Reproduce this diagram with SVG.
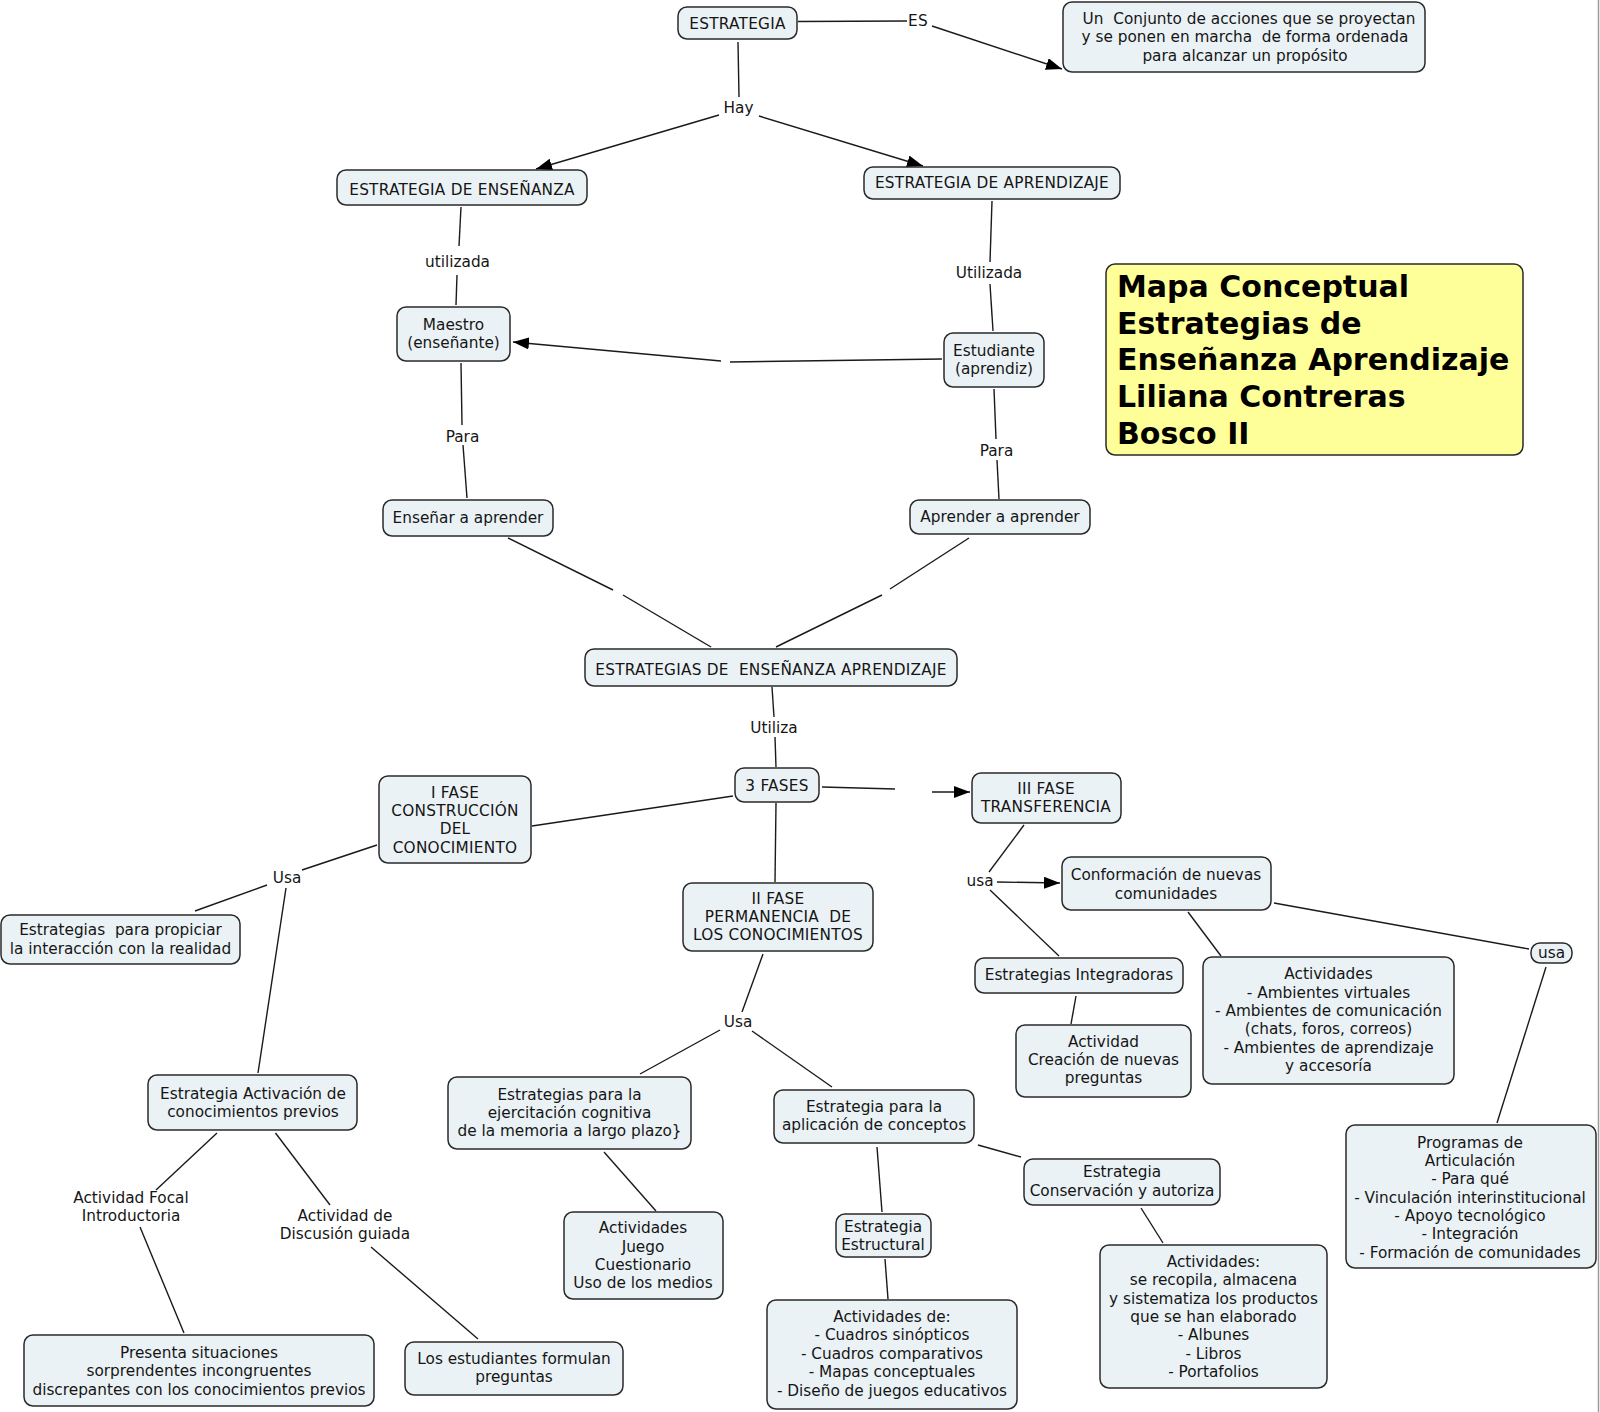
<svg xmlns="http://www.w3.org/2000/svg" width="1600" height="1412" viewBox="0 0 1600 1412">
<style>
.n{fill:#EAF2F5;stroke:#2a2a2a;stroke-width:1.5}
.ttl{fill:#FFFF99;stroke:#2a2a2a;stroke-width:1.5}
text{font-family:"DejaVu Sans","Verdana",sans-serif;font-size:15.3px;fill:#151515}
.c{text-anchor:middle}
.cap{letter-spacing:0.25px}
.big{font-size:30px;font-weight:bold;fill:#000}
#connectors line{stroke:#1a1a1a;stroke-width:1.4;fill:none}
.ar{marker-end:url(#arrow)}
</style>
<defs>
<marker id="arrow" viewBox="0 0 16 12" refX="16" refY="6" markerWidth="16" markerHeight="12" markerUnits="userSpaceOnUse" orient="auto">
<path d="M0,0 L16,6 L0,12 z" fill="#000"/>
</marker>
</defs>
<rect x="0" y="0" width="1600" height="1412" fill="#fff"/>
<line x1="1598.5" y1="0" x2="1598.5" y2="1412" stroke="#9a9a9a" stroke-width="1.5"/>

<g id="connectors">
<line x1="798" y1="21.5" x2="907" y2="21"/>
<line class="ar" x1="932" y1="26" x2="1062" y2="69"/>
<line x1="738" y1="42" x2="739" y2="97"/>
<line class="ar" x1="719" y1="115" x2="536" y2="169"/>
<line class="ar" x1="759" y1="116" x2="923" y2="166"/>
<line x1="461" y1="207" x2="459" y2="246"/>
<line x1="457" y1="275" x2="456" y2="305"/>
<line x1="992" y1="201" x2="990" y2="262"/>
<line x1="990" y1="284" x2="993" y2="331"/>
<line x1="942" y1="359" x2="730" y2="362"/>
<line class="ar" x1="721" y1="361" x2="513" y2="342"/>
<line x1="461" y1="363" x2="462" y2="425"/>
<line x1="463" y1="445" x2="467" y2="498"/>
<line x1="994" y1="389" x2="996" y2="439"/>
<line x1="997" y1="460" x2="999" y2="499"/>
<line x1="508" y1="538" x2="613" y2="590"/>
<line x1="623" y1="595" x2="711" y2="647"/>
<line x1="969" y1="538" x2="890" y2="589"/>
<line x1="882" y1="595" x2="776" y2="647"/>
<line x1="772" y1="687" x2="774" y2="717"/>
<line x1="775" y1="737" x2="776" y2="767"/>
<line x1="822" y1="787" x2="895" y2="789"/>
<line class="ar" x1="932" y1="792" x2="970" y2="792"/>
<line x1="733" y1="796" x2="532" y2="826"/>
<line x1="776" y1="803" x2="775" y2="882"/>
<line x1="377" y1="845" x2="302" y2="870"/>
<line x1="267" y1="885" x2="195" y2="911"/>
<line x1="286" y1="888" x2="258" y2="1073"/>
<line x1="763" y1="954" x2="742" y2="1012"/>
<line x1="720" y1="1030" x2="640" y2="1074"/>
<line x1="752" y1="1031" x2="832" y2="1087"/>
<line x1="217" y1="1133" x2="156" y2="1190"/>
<line x1="140" y1="1227" x2="184" y2="1333"/>
<line x1="275.5" y1="1133" x2="330" y2="1205"/>
<line x1="371" y1="1247" x2="478" y2="1339"/>
<line x1="604" y1="1152" x2="656" y2="1211"/>
<line x1="877" y1="1147" x2="882" y2="1212"/>
<line x1="885" y1="1259" x2="888" y2="1299"/>
<line x1="978" y1="1145" x2="1021" y2="1157"/>
<line x1="1141" y1="1208" x2="1163" y2="1243"/>
<line x1="1024" y1="825" x2="989" y2="872"/>
<line class="ar" x1="997" y1="882" x2="1060" y2="883"/>
<line x1="990" y1="890" x2="1059" y2="956"/>
<line x1="1076" y1="996" x2="1071" y2="1024"/>
<line x1="1188" y1="912" x2="1221" y2="956"/>
<line x1="1274" y1="903" x2="1529" y2="949"/>
<line x1="1546" y1="967" x2="1497" y2="1123"/>
</g>

<g id="labels">
<text class="c cap" x="918" y="26">ES</text>
<text class="c" x="738.5" y="113">Hay</text>
<text class="c" x="457.5" y="267">utilizada</text>
<text class="c" x="989" y="278">Utilizada</text>
<text class="c" x="462.5" y="442">Para</text>
<text class="c" x="996.5" y="456">Para</text>
<text class="c" x="774" y="733">Utiliza</text>
<text class="c" x="287" y="883">Usa</text>
<text class="c" x="738" y="1026.5">Usa</text>
<text class="c" x="980" y="886">usa</text>
<text class="c" x="131" y="1202.5">Actividad Focal</text>
<text class="c" x="131" y="1221">Introductoria</text>
<text class="c" x="345" y="1221">Actividad de</text>
<text class="c" x="345" y="1239">Discusión guiada</text>
</g>

<g id="n-estrategia"><rect class="n" x="678" y="7" width="119" height="32" rx="9"/><text class="c cap" x="737.5" y="28.5">ESTRATEGIA</text></g>

<g id="n-definicion"><rect class="n" x="1063" y="2" width="362" height="70" rx="9"/>
<text class="c" x="1249" y="24">Un&#160; Conjunto de acciones que se proyectan</text>
<text class="c" x="1245" y="42.4">y se ponen en marcha&#160; de forma ordenada</text>
<text class="c" x="1245" y="60.8">para alcanzar un propósito</text></g>

<g id="n-ensenanza"><rect class="n" x="337" y="170" width="250" height="35" rx="9"/><text class="c cap" x="462" y="195">ESTRATEGIA DE ENSEÑANZA</text></g>

<g id="n-aprendizaje"><rect class="n" x="864" y="167" width="256" height="32" rx="9"/><text class="c cap" x="992" y="188">ESTRATEGIA DE APRENDIZAJE</text></g>

<g id="n-maestro"><rect class="n" x="397" y="307" width="113" height="54" rx="9"/>
<text class="c" x="453.5" y="329.5">Maestro</text><text class="c" x="453.5" y="347.5">(enseñante)</text></g>

<g id="n-estudiante"><rect class="n" x="944" y="333" width="100" height="54" rx="9"/>
<text class="c" x="994" y="355.5">Estudiante</text><text class="c" x="994" y="373.5">(aprendiz)</text></g>

<g id="n-ensenar"><rect class="n" x="383" y="500" width="170" height="36" rx="9"/><text class="c" x="468" y="522.5">Enseñar a aprender</text></g>

<g id="n-aprender"><rect class="n" x="910" y="500" width="180" height="34" rx="9"/><text class="c" x="1000" y="522">Aprender a aprender</text></g>

<g id="n-estrategias-ea"><rect class="n" x="585" y="649" width="372" height="37" rx="9"/><text class="c cap" x="771" y="675">ESTRATEGIAS DE&#160; ENSEÑANZA APRENDIZAJE</text></g>

<g id="n-3fases"><rect class="n" x="735" y="768" width="84" height="34" rx="9"/><text class="c cap" x="777" y="791">3 FASES</text></g>

<g id="n-fase1"><rect class="n" x="379" y="776" width="152" height="87" rx="9"/>
<text class="c cap" x="455" y="797.5">I FASE</text><text class="c cap" x="455" y="815.5">CONSTRUCCIÓN</text>
<text class="c cap" x="455" y="834">DEL</text><text class="c cap" x="455" y="852.5">CONOCIMIENTO</text></g>

<g id="n-fase3"><rect class="n" x="972" y="773" width="149" height="50" rx="9"/>
<text class="c cap" x="1046" y="793.5">III FASE</text><text class="c cap" x="1046" y="811.5">TRANSFERENCIA</text></g>

<g id="n-fase2"><rect class="n" x="683" y="883" width="190" height="68" rx="9"/>
<text class="c cap" x="778" y="903.5">II FASE</text><text class="c cap" x="778" y="921.5">PERMANENCIA&#160; DE</text>
<text class="c cap" x="778" y="940">LOS CONOCIMIENTOS</text></g>

<g id="n-propiciar"><rect class="n" x="1" y="915" width="239" height="49" rx="9"/>
<text class="c" x="120.5" y="935">Estrategias&#160; para propiciar</text>
<text class="c" x="120.5" y="953.5">la interacción con la realidad</text></g>

<g id="n-conformacion"><rect class="n" x="1062" y="857" width="209" height="53" rx="9"/>
<text class="c" x="1166" y="880">Conformación de nuevas</text><text class="c" x="1166" y="898.5">comunidades</text></g>

<g id="n-integradoras"><rect class="n" x="975" y="958" width="208" height="35" rx="9"/><text class="c" x="1079" y="980">Estrategias Integradoras</text></g>

<g id="n-creacion"><rect class="n" x="1016" y="1025" width="175" height="72" rx="9"/>
<text class="c" x="1103.5" y="1046.5">Actividad</text><text class="c" x="1103.5" y="1064.5">Creación de nuevas</text>
<text class="c" x="1103.5" y="1083">preguntas</text></g>

<g id="n-ambientes"><rect class="n" x="1203" y="957" width="251" height="127" rx="9"/>
<text class="c" x="1328.5" y="979">Actividades</text>
<text class="c" x="1328.5" y="997.5">- Ambientes virtuales</text>
<text class="c" x="1328.5" y="1015.5">- Ambientes de comunicación</text>
<text class="c" x="1328.5" y="1034">(chats, foros, correos)</text>
<text class="c" x="1328.5" y="1052.5">- Ambientes de aprendizaje</text>
<text class="c" x="1328.5" y="1070.5">y accesoría</text></g>

<g id="n-usa"><rect class="n" x="1531" y="943" width="41" height="20" rx="9"/><text class="c" x="1551.5" y="958">usa</text></g>

<g id="n-programas"><rect class="n" x="1346" y="1125" width="250" height="143" rx="9"/>
<text class="c" x="1470" y="1147.5">Programas de</text>
<text class="c" x="1470" y="1165.5">Articulación</text>
<text class="c" x="1470" y="1184">- Para qué</text>
<text class="c" x="1470" y="1202.5">- Vinculación interinstitucional</text>
<text class="c" x="1470" y="1221">- Apoyo tecnológico</text>
<text class="c" x="1470" y="1239">- Integración</text>
<text class="c" x="1470" y="1257.5">- Formación de comunidades</text></g>

<g id="n-activacion"><rect class="n" x="148" y="1075" width="209" height="55" rx="9"/>
<text class="c" x="253" y="1098.5">Estrategia Activación de</text>
<text class="c" x="253" y="1116.5">conocimientos previos</text></g>

<g id="n-ejercitacion"><rect class="n" x="448" y="1077" width="243" height="72" rx="9"/>
<text class="c" x="569.5" y="1099.5">Estrategias para la</text>
<text class="c" x="569.5" y="1118">ejercitación cognitiva</text>
<text class="c" x="569.5" y="1136">de la memoria a largo plazo}</text></g>

<g id="n-aplicacion"><rect class="n" x="774" y="1090" width="200" height="53" rx="9"/>
<text class="c" x="874" y="1111.5">Estrategia para la</text>
<text class="c" x="874" y="1130">aplicación de conceptos</text></g>

<g id="n-conservacion"><rect class="n" x="1024" y="1159" width="196" height="46" rx="9"/>
<text class="c" x="1122" y="1177">Estrategia</text>
<text class="c" x="1122" y="1195.5">Conservación y autoriza</text></g>

<g id="n-juego"><rect class="n" x="564" y="1212" width="159" height="87" rx="9"/>
<text class="c" x="643" y="1233">Actividades</text>
<text class="c" x="643" y="1251.5">Juego</text>
<text class="c" x="643" y="1270">Cuestionario</text>
<text class="c" x="643" y="1288">Uso de los medios</text></g>

<g id="n-estructural"><rect class="n" x="836" y="1214" width="95" height="43" rx="9"/>
<text class="c" x="883" y="1232">Estrategia</text>
<text class="c" x="883" y="1250">Estructural</text></g>

<g id="n-presenta"><rect class="n" x="24" y="1335" width="350" height="71" rx="9"/>
<text class="c" x="199" y="1357.5">Presenta situaciones</text>
<text class="c" x="199" y="1376">sorprendentes incongruentes</text>
<text class="c" x="199" y="1394.5">discrepantes con los conocimientos previos</text></g>

<g id="n-formulan"><rect class="n" x="405" y="1342" width="218" height="53" rx="9"/>
<text class="c" x="514" y="1363.5">Los estudiantes formulan</text>
<text class="c" x="514" y="1382">preguntas</text></g>

<g id="n-cuadros"><rect class="n" x="767" y="1300" width="250" height="109" rx="9"/>
<text class="c" x="892" y="1322">Actividades de:</text>
<text class="c" x="892" y="1340">- Cuadros sinópticos</text>
<text class="c" x="892" y="1358.5">- Cuadros comparativos</text>
<text class="c" x="892" y="1377">- Mapas conceptuales</text>
<text class="c" x="892" y="1395.5">- Diseño de juegos educativos</text></g>

<g id="n-recopila"><rect class="n" x="1100" y="1245" width="227" height="143" rx="9"/>
<text class="c" x="1213.5" y="1266.5">Actividades:</text>
<text class="c" x="1213.5" y="1285">se recopila, almacena</text>
<text class="c" x="1213.5" y="1303.5">y sistematiza los productos</text>
<text class="c" x="1213.5" y="1321.5">que se han elaborado</text>
<text class="c" x="1213.5" y="1340">- Albunes</text>
<text class="c" x="1213.5" y="1358.5">- Libros</text>
<text class="c" x="1213.5" y="1377">- Portafolios</text></g>

<g id="n-titulo"><rect class="ttl" x="1106" y="264" width="417" height="191" rx="9"/>
<text class="big" x="1117" y="297">Mapa Conceptual</text>
<text class="big" x="1117" y="333.7">Estrategias de</text>
<text class="big" x="1117" y="370.4">Enseñanza Aprendizaje</text>
<text class="big" x="1117" y="407">Liliana Contreras</text>
<text class="big" x="1117" y="443.8">Bosco II</text></g>
</svg>
